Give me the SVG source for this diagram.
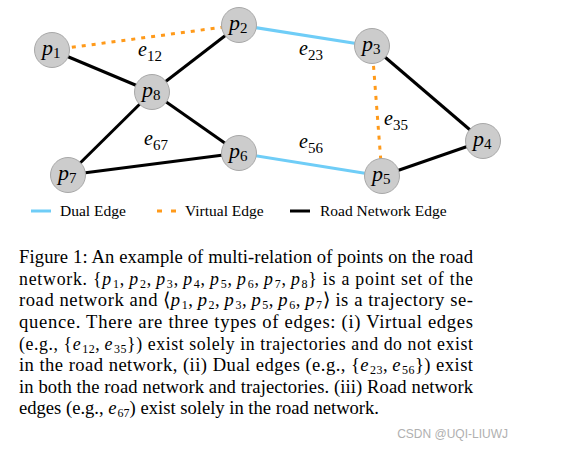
<svg xmlns="http://www.w3.org/2000/svg" width="571" height="451" viewBox="0 0 571 451">
<style>
.road{stroke:#000;stroke-width:3;fill:none}
.dual{stroke:#6fcdf7;stroke-width:3;fill:none}
.virt{stroke:#ff9a1a;stroke-width:3;fill:none;stroke-dasharray:4 6}
.node circle{fill:#cccccc;stroke:#a8a8a8;stroke-width:1}
.nl{font-family:"Liberation Serif",serif;font-style:italic;font-size:22px;fill:#000}
.sub{font-style:normal;font-size:15px}
.el{font-family:"Liberation Serif",serif;font-style:italic;font-size:20px;fill:#000}
.lg{font-family:"Liberation Serif",serif;font-size:15.5px;fill:#000}
.cap{font-family:"Liberation Serif",serif;font-size:18.6px;fill:#000}
.tight{font-size:17.8px}
.m{font-style:italic}
.ms{font-size:12px}
</style>
<rect width="571" height="451" fill="#fff"/>
<g id="connectors">
<line class="virt" x1="52" y1="50" x2="239" y2="25"/>
<line class="virt" x1="372" y1="46" x2="382" y2="176"/>
<line class="dual" x1="239" y1="25" x2="372" y2="46"/>
<line class="dual" x1="239" y1="153" x2="382" y2="176"/>
<line class="road" x1="52" y1="50" x2="152" y2="92"/>
<line class="road" x1="152" y1="92" x2="239" y2="25"/>
<line class="road" x1="152" y1="92" x2="239" y2="153"/>
<line class="road" x1="152" y1="92" x2="68" y2="175"/>
<line class="road" x1="68" y1="175" x2="239" y2="153"/>
<line class="road" x1="372" y1="46" x2="483" y2="141"/>
<line class="road" x1="483" y1="141" x2="382" y2="176"/>
</g>
<g id="edge-labels">
<text class="el" x="138" y="56">e<tspan class="sub" dy="5">12</tspan></text>
<text class="el" x="144" y="145">e<tspan class="sub" dy="5">67</tspan></text>
<text class="el" x="299" y="55">e<tspan class="sub" dy="5">23</tspan></text>
<text class="el" x="384" y="125">e<tspan class="sub" dy="5">35</tspan></text>
<text class="el" x="299" y="148">e<tspan class="sub" dy="5">56</tspan></text>
</g>
<g id="p1" class="node"><circle cx="52" cy="50" r="17.5"/><text class="nl" x="42" y="55">p<tspan class="sub" dy="3">1</tspan></text></g>
<g id="p2" class="node"><circle cx="239" cy="25" r="17.5"/><text class="nl" x="229" y="30">p<tspan class="sub" dy="3">2</tspan></text></g>
<g id="p3" class="node"><circle cx="372" cy="46" r="17.5"/><text class="nl" x="362" y="51">p<tspan class="sub" dy="3">3</tspan></text></g>
<g id="p4" class="node"><circle cx="483" cy="141" r="17.5"/><text class="nl" x="473" y="146">p<tspan class="sub" dy="3">4</tspan></text></g>
<g id="p5" class="node"><circle cx="382" cy="176" r="17.5"/><text class="nl" x="372" y="181">p<tspan class="sub" dy="3">5</tspan></text></g>
<g id="p6" class="node"><circle cx="239" cy="153" r="17.5"/><text class="nl" x="229" y="158">p<tspan class="sub" dy="3">6</tspan></text></g>
<g id="p7" class="node"><circle cx="68" cy="175" r="17.5"/><text class="nl" x="58" y="180">p<tspan class="sub" dy="3">7</tspan></text></g>
<g id="p8" class="node"><circle cx="152" cy="92" r="17.5"/><text class="nl" x="142" y="97">p<tspan class="sub" dy="3">8</tspan></text></g>
<g id="legend">
<line class="dual" x1="31" y1="211" x2="51" y2="211"/>
<text class="lg" x="60" y="216">Dual Edge</text>
<line class="virt" x1="157" y1="211" x2="176" y2="211" style="stroke-dasharray:5 9"/>
<text class="lg" x="185" y="216">Virtual Edge</text>
<line class="road" x1="290" y1="211" x2="310" y2="211"/>
<text class="lg" x="320" y="216">Road Network Edge</text>
</g>
<g id="caption">
<text class="cap" x="19" y="263" textLength="454" lengthAdjust="spacing">Figure 1: An example of multi-relation of points on the road</text>
<text class="cap tight" x="19" y="285" textLength="454" lengthAdjust="spacing">network. {<tspan class="m">p</tspan><tspan class="ms" dx="1" dy="3">1</tspan><tspan dy="-3">,&#8201;</tspan><tspan class="m">p</tspan><tspan class="ms" dx="1" dy="3">2</tspan><tspan dy="-3">,&#8201;</tspan><tspan class="m">p</tspan><tspan class="ms" dx="1" dy="3">3</tspan><tspan dy="-3">,&#8201;</tspan><tspan class="m">p</tspan><tspan class="ms" dx="1" dy="3">4</tspan><tspan dy="-3">,&#8201;</tspan><tspan class="m">p</tspan><tspan class="ms" dx="1" dy="3">5</tspan><tspan dy="-3">,&#8201;</tspan><tspan class="m">p</tspan><tspan class="ms" dx="1" dy="3">6</tspan><tspan dy="-3">,&#8201;</tspan><tspan class="m">p</tspan><tspan class="ms" dx="1" dy="3">7</tspan><tspan dy="-3">,&#8201;</tspan><tspan class="m">p</tspan><tspan class="ms" dx="1" dy="3">8</tspan><tspan dy="-3">} is a point set of the</tspan></text>
<text class="cap" x="19" y="306" textLength="454" lengthAdjust="spacing">road network and ⟨<tspan class="m">p</tspan><tspan class="ms" dx="1" dy="3">1</tspan><tspan dy="-3">,&#8201;</tspan><tspan class="m">p</tspan><tspan class="ms" dx="1" dy="3">2</tspan><tspan dy="-3">,&#8201;</tspan><tspan class="m">p</tspan><tspan class="ms" dx="1" dy="3">3</tspan><tspan dy="-3">,&#8201;</tspan><tspan class="m">p</tspan><tspan class="ms" dx="1" dy="3">5</tspan><tspan dy="-3">,&#8201;</tspan><tspan class="m">p</tspan><tspan class="ms" dx="1" dy="3">6</tspan><tspan dy="-3">,&#8201;</tspan><tspan class="m">p</tspan><tspan class="ms" dx="1" dy="3">7</tspan><tspan dy="-3">⟩ is a trajectory se-</tspan></text>
<text class="cap" x="19" y="328" textLength="454" lengthAdjust="spacing">quence. There are three types of edges: (i) Virtual edges</text>
<text class="cap tight" x="19" y="350" textLength="454" lengthAdjust="spacing">(e.g., {<tspan class="m">e</tspan><tspan class="ms" dx="1" dy="3">12</tspan><tspan dy="-3">,&#8201;</tspan><tspan class="m">e</tspan><tspan class="ms" dx="1" dy="3">35</tspan><tspan dy="-3">}) exist solely in trajectories and do not exist</tspan></text>
<text class="cap" x="19" y="371" textLength="454" lengthAdjust="spacing">in the road network, (ii) Dual edges (e.g., {<tspan class="m">e</tspan><tspan class="ms" dx="1" dy="3">23</tspan><tspan dy="-3">,&#8201;</tspan><tspan class="m">e</tspan><tspan class="ms" dx="1" dy="3">56</tspan><tspan dy="-3">}) exist</tspan></text>
<text class="cap" x="19" y="393" textLength="454" lengthAdjust="spacing">in both the road network and trajectories. (iii) Road network</text>
<text class="cap" x="19" y="414">edges (e.g., <tspan class="m">e</tspan><tspan class="ms" dx="1" dy="3">67</tspan><tspan dy="-3">) exist solely in the road network.</tspan></text>
</g>
<text x="508" y="438" text-anchor="end" style="font-family:'Liberation Sans',sans-serif;font-size:12px;fill:#b0b0b0">CSDN @UQI-LIUWJ</text>
</svg>
